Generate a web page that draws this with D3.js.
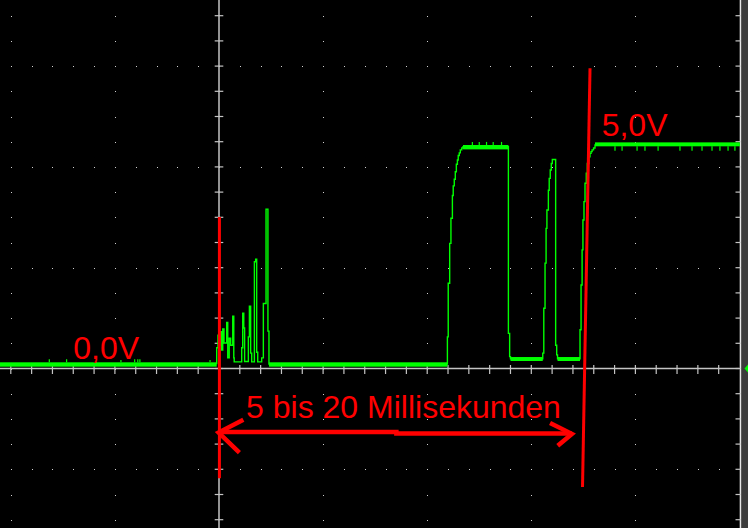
<!DOCTYPE html>
<html>
<head>
<meta charset="utf-8">
<script src="https://cdn.jsdelivr.net/npm/d3@7"></script>
<style>
body { margin: 0; background: #000; }
svg { display: block; }
</style>
</head>
<body>
<svg width="748" height="528"></svg>
<script>
// scope trace, time in ms (5 ms/div), level in volts
var trace = [
  [-10.52, 0], [-0.48, 0.02], [-0.11, 0.38], [-0.05, 0.67], [0.02, 0.44], [0.08, 0.75],
  [0.13, 0.33], [0.18, 0.81], [0.24, 0.49], [0.37, 0.96], [0.42, 0.15], [0.49, 0.60],
  [0.56, 0.44], [0.66, 1.10], [0.71, 0.15], [0.73, 0.06], [1.09, 0.38], [1.14, 1.17],
  [1.19, 0.83], [1.23, 0.07], [1.41, 0.63], [1.46, 1.33], [1.52, 0.26], [1.57, 0.06],
  [1.70, 2.34], [1.76, 2.40], [1.81, 0.28], [1.86, 0.06], [2.05, 0.15], [2.13, 1.39],
  [2.26, 3.54], [2.35, 0.76], [2.40, 0.01],
  [10.97, 0.63], [11.01, 1.85], [11.08, 2.76], [11.14, 3.33], [11.21, 3.85], [11.25, 4.07],
  [11.30, 4.22], [11.35, 4.39], [11.40, 4.56], [11.45, 4.66], [11.49, 4.76], [11.54, 4.82],
  [11.59, 4.89], [11.66, 4.93], [11.72, 4.96],
  [13.90, 0.71], [13.96, 0.18], [14.00, 0.13],
  [15.55, 0.26], [15.60, 1.28], [15.66, 2.31], [15.71, 3.10], [15.75, 3.52], [15.82, 3.97],
  [15.86, 4.24], [15.91, 4.43], [15.96, 4.58], [16.01, 4.67],
  [16.17, 0.44], [16.22, 0.22], [16.26, 0.13],
  [17.34, 0.79], [17.39, 1.81], [17.44, 2.61], [17.48, 3.29], [17.53, 3.71], [17.58, 4.13],
  [17.64, 4.36], [17.69, 4.58], [17.76, 4.73], [17.82, 4.81], [17.87, 4.85], [17.92, 4.89],
  [17.99, 4.93], [18.06, 5.00], [25.02, 5.00]
];

// noise band on the flat parts: [t0, t1, vLow, vHigh]
var noiseBands = [
  [-10.52, -0.11, -0.05, 0.05],
  [2.40, 10.97, -0.05, 0.05],
  [11.72, 13.90, 4.90, 5.00],
  [14.00, 15.55, 0.08, 0.17],
  [16.26, 17.34, 0.08, 0.17],
  [18.06, 25.02, 4.97, 5.06]
];

// single noise spikes: [t, vFrom, vTo]
var noiseSpikes = [
  [-8.15, 0.05, 0.12], [-7.32, 0.05, 0.12], [-4.71, 0.05, 0.10], [-4.05, 0.05, 0.12],
  [-3.90, 0.05, 0.12], [-3.80, 0.05, 0.12], [-0.43, 0.05, 0.10],
  [12.17, 5.00, 5.07], [12.50, 5.00, 5.07], [12.85, 5.00, 5.07], [13.17, 5.00, 5.07], [13.57, 5.00, 5.07],
  [19.02, 4.97, 4.87], [19.36, 4.97, 4.87], [20.08, 4.97, 4.87], [20.46, 4.97, 4.87],
  [21.09, 4.97, 4.87], [22.14, 4.97, 4.87], [22.72, 4.97, 4.87], [23.20, 4.97, 4.87],
  [23.68, 4.97, 4.87], [24.06, 4.97, 4.87], [24.45, 4.97, 4.87], [24.78, 4.97, 4.87]
];

// red hand-drawn marks, [t, v]
var markStart = [[0.02, 3.36], [0.02, -2.59]];
var markEnd = [[17.82, 6.75], [17.46, -2.79]];
var arrowLine = [[-0.02, -1.54], [8.52, -1.54], [8.52, -1.57], [16.95, -1.57]];
var arrowLeft = [[1.17, -1.26], [-0.02, -1.55], [0.98, -2.01]];
var arrowRight = [[15.90, -1.33], [16.95, -1.58], [16.27, -1.85]];
var labels = [
  { text: "0,0V", t: -7.0, v: 0.12 },
  { text: "5,0V", t: 18.38, v: 5.2 },
  { text: "5 bis 20 Millisekunden", t: 1.30, v: -1.23 }
];

var svg = d3.select("svg"),
  width = +svg.attr("width"),
  height = +svg.attr("height");

var msPerDiv = 5;
var x = d3.scaleLinear().domain([0, msPerDiv]).range([219, 323.1]);
var y = d3.scaleLinear().domain([0, 5]).range([364.5, 145]);
// graticule, in divisions
var gx = d3.scaleLinear().domain([0, 1]).range([219, 323.1]);
var gy = d3.scaleLinear().domain([0, 1]).range([368.5, 267.7]);

var gridColor = "#d0d0d0", axisColor = "#c4c4c4";

svg.append("rect").attr("width", width).attr("height", height).attr("fill", "#000");

var minorX = d3.range(-11, 26).map(function(i) { return i * 0.2; })
  .filter(function(d) { return gx(d) > 0 && gx(d) < 738; });
var minorY = d3.range(-7, 16).map(function(i) { return i * 0.25; })
  .filter(function(d) { return gy(d) > 0 && gy(d) < height; });

var grid = svg.append("g");
// dotted major rows
[-1, 1, 2, 3].forEach(function(r) {
  grid.selectAll(null).data(minorX).enter().append("rect")
    .attr("x", function(d) { return Math.round(gx(d)); })
    .attr("y", Math.round(gy(r)))
    .attr("width", 1).attr("height", 1)
    .attr("fill", gridColor);
});
// dotted major columns
[-2, -1, 1, 2, 3, 4].forEach(function(c) {
  grid.selectAll(null).data(minorY).enter().append("rect")
    .attr("x", Math.round(gx(c)))
    .attr("y", function(d) { return Math.round(gy(d)); })
    .attr("width", 1).attr("height", 1)
    .attr("fill", gridColor);
});

// centre axes with ticks
var axes = svg.append("g").attr("stroke", axisColor);
axes.append("line")
  .attr("x1", gx(0)).attr("x2", gx(0)).attr("y1", 0).attr("y2", height)
  .attr("stroke-width", 1.5);
axes.append("line")
  .attr("x1", 0).attr("x2", gx(5)).attr("y1", gy(0)).attr("y2", gy(0))
  .attr("stroke-width", 1.5);
axes.selectAll(".ty").data(minorY).enter().append("line")
  .attr("x1", gx(0) - 4.3).attr("x2", gx(0) + 4.3)
  .attr("y1", function(d) { return gy(d); }).attr("y2", function(d) { return gy(d); })
  .attr("stroke-width", 1.2);
axes.selectAll(".tx").data(minorX).enter().append("line")
  .attr("x1", function(d) { return gx(d); }).attr("x2", function(d) { return gx(d); })
  .attr("y1", gy(0) - 3.5).attr("y2", gy(0) + 5.5)
  .attr("stroke-width", 1.2);

// right frame
svg.append("rect").attr("x", gx(5) + 2).attr("y", 0)
  .attr("width", width - gx(5) - 2).attr("height", height).attr("fill", "#3c3c3c");
svg.append("line")
  .attr("x1", gx(5) + 1).attr("x2", gx(5) + 1).attr("y1", 0).attr("y2", height)
  .attr("stroke", "#e6e6e6").attr("stroke-width", 1.6);
svg.selectAll(".tr").data(minorY).enter().append("line")
  .attr("x1", gx(5) - 4).attr("x2", gx(5) + 1)
  .attr("y1", function(d) { return gy(d); }).attr("y2", function(d) { return gy(d); })
  .attr("stroke", axisColor).attr("stroke-width", 1.2);
// channel zero marker
svg.append("path")
  .attr("d", "M" + (gx(5) + 5) + "," + gy(0) + "L" + width + "," + (gy(0) - 4) + "L" + width + "," + (gy(0) + 4) + "Z")
  .attr("fill", "#00ff00");

// trace
var green = "#00ff00";
var traceG = svg.append("g");
traceG.selectAll(".band").data(noiseBands).enter().append("rect")
  .attr("x", function(d) { return x(d[0]); })
  .attr("width", function(d) { return x(d[1]) - x(d[0]); })
  .attr("y", function(d) { return y(d[3]); })
  .attr("height", function(d) { return y(d[2]) - y(d[3]); })
  .attr("fill", green);
traceG.selectAll(".spike").data(noiseSpikes).enter().append("line")
  .attr("x1", function(d) { return x(d[0]); }).attr("x2", function(d) { return x(d[0]); })
  .attr("y1", function(d) { return y(d[1]); }).attr("y2", function(d) { return y(d[2]); })
  .attr("stroke", green).attr("stroke-width", 1.2);

var line = d3.line()
  .x(function(d) { return x(d[0]); })
  .y(function(d) { return y(d[1]); })
  .curve(d3.curveStepAfter);
traceG.append("path")
  .datum(trace)
  .attr("d", line)
  .attr("fill", "none")
  .attr("stroke", green)
  .attr("stroke-width", 1.4);

// red annotations
var red = "#ff0000";
var plain = d3.line()
  .x(function(d) { return x(d[0]); })
  .y(function(d) { return y(d[1]); });
var marks = svg.append("g").attr("fill", "none").attr("stroke", red);
marks.append("path").attr("d", plain(markStart)).attr("stroke-width", 3);
marks.append("path").attr("d", plain(markEnd)).attr("stroke-width", 3);
marks.append("path").attr("d", plain(arrowLine)).attr("stroke-width", 4.5);
marks.append("path").attr("d", plain(arrowLeft)).attr("stroke-width", 4.5);
marks.append("path").attr("d", plain(arrowRight)).attr("stroke-width", 4.5);

svg.selectAll(".lbl").data(labels).enter().append("text")
  .attr("x", function(d) { return x(d.t); })
  .attr("y", function(d) { return y(d.v); })
  .attr("fill", red)
  .attr("font-family", "'Liberation Sans', Arial, sans-serif")
  .attr("font-size", 32)
  .text(function(d) { return d.text; });
</script>
</body>
</html>
